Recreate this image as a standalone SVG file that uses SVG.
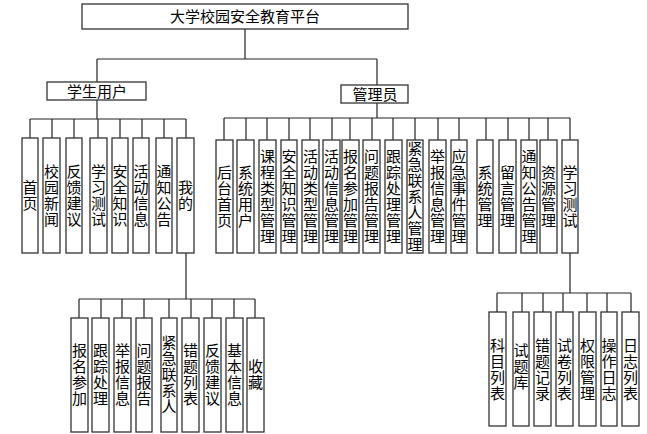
<svg xmlns="http://www.w3.org/2000/svg" width="647" height="434" viewBox="0 0 647 434">
<style>
.b{fill:#fff;stroke:#333;stroke-width:1.3}
.c{fill:none;stroke:#222;stroke-width:1.2}
.t{font-family:"Noto Sans CJK SC","Noto Sans",sans-serif;font-size:15px;fill:#000;text-anchor:middle}
.v{font-family:"Noto Sans CJK SC","Noto Sans",sans-serif;font-size:15px;fill:#000;text-anchor:middle;writing-mode:vertical-rl;letter-spacing:1px}
</style>
<rect width="647" height="434" fill="#fff"/>
<g id="connectors">
<path class="c" d="M245 29V59M97 59H377M97 59V82M377 59V85"/>
<path class="c" d="M97 100V119M30 119H186M30 119V138M52 119V138M74 119V138M98 119V138M120 119V138M142 119V138M164 119V138M186 119V138"/>
<path class="c" d="M377 103V118M224 118H570M224 118V140M246 118V140M267 118V140M289 118V140M310 118V140M332 118V140M350 118V140M372 118V140M393 118V140M415 118V140M438 118V140M459 118V140M486 118V140M508 118V140M529 118V140M548 118V140M570 118V140"/>
<path class="c" d="M186 253V299M79 299H255M79 299V318M101 299V318M122 299V318M144 299V318M169 299V318M191 299V318M212 299V318M234 299V318M255 299V318"/>
<path class="c" d="M570 253V293M497 293H631M497 293V312M522 293V312M543 293V312M563 293V312M587 293V312M607 293V312M631 293V312"/>
</g>
<g id="root"><rect class="b" x="82" y="4" width="326" height="25"/><text class="t" x="245" y="22">大学校园安全教育平台</text></g>
<g id="student"><rect class="b" x="47" y="82" width="99" height="18"/><text class="t" x="97" y="97">学生用户</text></g>
<g id="admin"><rect class="b" x="341" y="85" width="67" height="18"/><text class="t" x="375" y="100">管理员</text></g>

<g id="s1"><rect class="b" x="22" y="138" width="16" height="115"/><text class="v" x="30" y="195.5">首页</text></g>
<g id="s2"><rect class="b" x="43" y="138" width="17" height="115"/><text class="v" x="51.5" y="195.5">校园新闻</text></g>
<g id="s3"><rect class="b" x="66" y="138" width="16" height="115"/><text class="v" x="74" y="195.5">反馈建议</text></g>
<g id="s4"><rect class="b" x="90" y="138" width="17" height="115"/><text class="v" x="98.5" y="195.5">学习测试</text></g>
<g id="s5"><rect class="b" x="112" y="138" width="16" height="115"/><text class="v" x="120" y="195.5">安全知识</text></g>
<g id="s6"><rect class="b" x="133" y="138" width="16" height="115"/><text class="v" x="141" y="195.5">活动信息</text></g>
<g id="s7"><rect class="b" x="156" y="138" width="16" height="115"/><text class="v" x="164" y="195.5">通知公告</text></g>
<g id="s8"><rect class="b" x="177" y="138" width="17" height="115"/><text class="v" x="185.5" y="195.5">我的</text></g>

<g id="a1"><rect class="b" x="216" y="140" width="17" height="113"/><text class="v" x="224.5" y="196.5">后台首页</text></g>
<g id="a2"><rect class="b" x="237" y="140" width="17" height="113"/><text class="v" x="245.5" y="196.5">系统用户</text></g>
<g id="a3"><rect class="b" x="259" y="140" width="17" height="113"/><text class="v" x="267.5" y="196.5">课程类型管理</text></g>
<g id="a4"><rect class="b" x="281" y="140" width="16" height="113"/><text class="v" x="289" y="196.5">安全知识管理</text></g>
<g id="a5"><rect class="b" x="302" y="140" width="17" height="113"/><text class="v" x="310.5" y="196.5">活动类型管理</text></g>
<g id="a6"><rect class="b" x="323" y="140" width="17" height="113"/><text class="v" x="331.5" y="196.5">活动信息管理</text></g>
<g id="a7"><rect class="b" x="342" y="140" width="17" height="113"/><text class="v" x="350.5" y="196.5">报名参加管理</text></g>
<g id="a8"><rect class="b" x="363" y="140" width="17" height="113"/><text class="v" x="371.5" y="196.5">问题报告管理</text></g>
<g id="a9"><rect class="b" x="385" y="140" width="17" height="113"/><text class="v" x="393.5" y="196.5">跟踪处理管理</text></g>
<g id="a10"><rect class="b" x="407" y="140" width="16" height="113"/><text class="v" x="415" y="196.5">紧急联系人管理</text></g>
<g id="a11"><rect class="b" x="429" y="140" width="17" height="113"/><text class="v" x="437.5" y="196.5">举报信息管理</text></g>
<g id="a12"><rect class="b" x="451" y="140" width="16" height="113"/><text class="v" x="459" y="196.5">应急事件管理</text></g>
<g id="a13"><rect class="b" x="477" y="140" width="16" height="113"/><text class="v" x="485" y="196.5">系统管理</text></g>
<g id="a14"><rect class="b" x="499" y="140" width="17" height="113"/><text class="v" x="507.5" y="196.5">留言管理</text></g>
<g id="a15"><rect class="b" x="521" y="140" width="16" height="113"/><text class="v" x="529" y="196.5">通知公告管理</text></g>
<g id="a16"><rect class="b" x="540" y="140" width="17" height="113"/><text class="v" x="548.5" y="196.5">资源管理</text></g>
<g id="a17"><rect class="b" x="562" y="140" width="16" height="113"/><text class="v" x="570" y="196.5">学习测试</text></g>

<g id="m1"><rect class="b" x="71" y="318" width="17" height="114"/><text class="v" x="79.5" y="375">报名参加</text></g>
<g id="m2"><rect class="b" x="92" y="318" width="17" height="114"/><text class="v" x="100.5" y="375">跟踪处理</text></g>
<g id="m3"><rect class="b" x="114" y="318" width="17" height="114"/><text class="v" x="122.5" y="375">举报信息</text></g>
<g id="m4"><rect class="b" x="136" y="318" width="16" height="114"/><text class="v" x="144" y="375">问题报告</text></g>
<g id="m5"><rect class="b" x="161" y="318" width="16" height="114"/><text class="v" x="169" y="375">紧急联系人</text></g>
<g id="m6"><rect class="b" x="182" y="318" width="17" height="114"/><text class="v" x="190.5" y="375">错题列表</text></g>
<g id="m7"><rect class="b" x="204" y="318" width="17" height="114"/><text class="v" x="212.5" y="375">反馈建议</text></g>
<g id="m8"><rect class="b" x="226" y="318" width="17" height="114"/><text class="v" x="234.5" y="375">基本信息</text></g>
<g id="m9"><rect class="b" x="247" y="318" width="17" height="114"/><text class="v" x="255.5" y="375">收藏</text></g>

<g id="t1"><rect class="b" x="489" y="312" width="17" height="114"/><text class="v" x="497.5" y="370">科目列表</text></g>
<g id="t2"><rect class="b" x="513" y="312" width="16" height="114"/><text class="v" x="521" y="367">试题库</text></g>
<g id="t3"><rect class="b" x="534" y="312" width="17" height="114"/><text class="v" x="542.5" y="370">错题记录</text></g>
<g id="t4"><rect class="b" x="556" y="312" width="17" height="114"/><text class="v" x="564.5" y="370">试卷列表</text></g>
<g id="t5"><rect class="b" x="579" y="312" width="17" height="114"/><text class="v" x="587.5" y="370">权限管理</text></g>
<g id="t6"><rect class="b" x="601" y="312" width="16" height="114"/><text class="v" x="609" y="370">操作日志</text></g>
<g id="t7"><rect class="b" x="622" y="312" width="17" height="114"/><text class="v" x="630.5" y="370">日志列表</text></g>
</svg>
